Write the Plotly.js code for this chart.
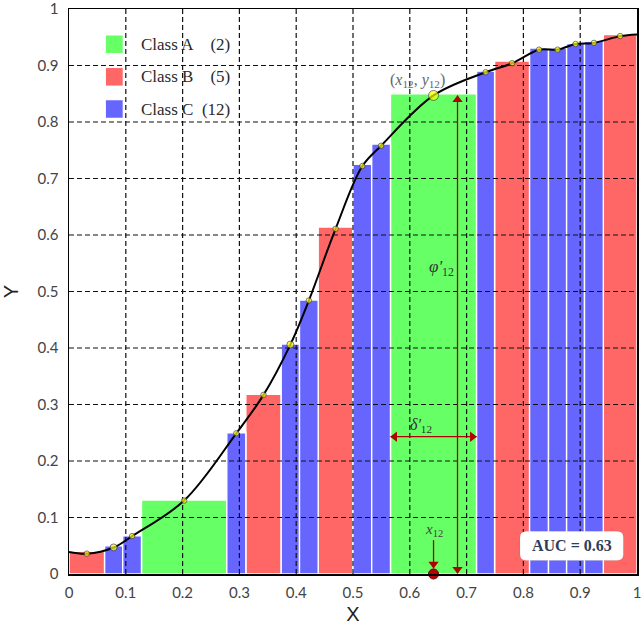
<!DOCTYPE html>
<html>
<head>
<meta charset="utf-8">
<script src="https://cdn.plot.ly/plotly-3.0.1.min.js"></script>
<style>html,body{margin:0;padding:0;background:#fff;}#chart{width:644px;height:625px;}</style>
</head>
<body>
<div id="chart"></div>
<script>
// ---- data ----
const classNames = ['Class A', 'Class B', 'Class C'];
const classColors = ['#66ff66', '#ff6666', '#6666ff'];
// class index of each bar, left to right (0 = A, 1 = B, 2 = C)
const barClass = [1, 2, 2, 0, 2, 1, 2, 2, 1, 2, 2, 0, 2, 1, 2, 2, 2, 2, 1];
const barWidth = [0.0627, 0.0318, 0.0331, 0.1502, 0.0335, 0.0623, 0.0322, 0.0329, 0.0613, 0.0329,
                  0.0331, 0.1516, 0.0317, 0.0616, 0.0333, 0.0319, 0.0315, 0.0331, 0.0593];
const barHeight = [0.040, 0.050, 0.0675, 0.131, 0.250, 0.318, 0.407, 0.485, 0.614, 0.725,
                   0.761, 0.850, 0.890, 0.908, 0.931, 0.931, 0.939, 0.943, 0.955];
const pointY = [0.036, 0.047, 0.067, 0.130, 0.249, 0.317, 0.406, 0.484, 0.611, 0.722,
                0.758, 0.847, 0.888, 0.904, 0.928, 0.928, 0.938, 0.940, 0.952];
const pointSize = [5.5, 7, 5.5, 5.5, 5.5, 5.5, 7, 5.5, 5.5, 5.5, 5.5, 10, 5.5, 5.5, 5.5, 5.5, 5.5, 5.5, 5.5];
const curveStartY = 0.039;
const curveEndY = 0.955;
const highlightIndex = 11; // the 12th bar
const aucValue = 0.63;
const xTicks = [0, 0.1, 0.2, 0.3, 0.4, 0.5, 0.6, 0.7, 0.8, 0.9, 1];
const xTickText = ['0', '0.1', '0.2', '0.3', '0.4', '0.5', '0.6', '0.7', '0.8', '0.9', '1'];
const yTicks = [0, 0.1, 0.2, 0.3, 0.4, 0.5, 0.6, 0.7, 0.8, 0.9, 1];
const yTickText = ['0', '0.1', '0.2', '0.3', '0.4', '0.5', '0.6', '0.7', '0.8', '0.9', '1'];

// ---- derived ----
const barLeft = [];
let acc = 0;
barWidth.forEach(w => { barLeft.push(acc); acc += w; });
const barCenter = barWidth.map((w, i) => barLeft[i] + w / 2);
const hi = highlightIndex;
const hiLeft = barLeft[hi], hiRight = barLeft[hi] + barWidth[hi];
const hiX = barCenter[hi];

const traces = [];
classNames.forEach((name, c) => {
  const idx = barClass.map((k, i) => k === c ? i : -1).filter(i => i >= 0);
  traces.push({
    type: 'bar', name: name, showlegend: false, hoverinfo: 'skip',
    x: idx.map(i => barCenter[i]), y: idx.map(i => barHeight[i]), width: idx.map(i => barWidth[i]),
    marker: {color: classColors[c], line: {color: '#ffffff', width: 1.4}}
  });
});

// dashed grid above bars
const gx = [], gy = [];
xTicks.filter(t => t > 0 && t < 1).forEach(t => { gx.push(t, t, null); gy.push(0, 1, null); });
yTicks.filter(t => t > 0 && t < 1).forEach(t => { gx.push(0, 1, null); gy.push(t, t, null); });
traces.push({type: 'scatter', mode: 'lines', x: gx, y: gy, showlegend: false, hoverinfo: 'skip',
  line: {color: '#111', width: 1.2, dash: '5px,3px'}});

// arrows (line + triangle heads)
const arrowColor = '#b00000';
const headSize = 9;
const inset = 0.0075;
function arrow(x0, y0, x1, y1, both) {
  const dx = x1 - x0, dy = y1 - y0, len = Math.hypot(dx, dy);
  const ux = dx / len, uy = dy / len;
  const headEnd = Math.abs(dx) > Math.abs(dy) ? (dx > 0 ? 'triangle-right' : 'triangle-left') : (dy > 0 ? 'triangle-up' : 'triangle-down');
  const headStart = {'triangle-right': 'triangle-left', 'triangle-left': 'triangle-right', 'triangle-up': 'triangle-down', 'triangle-down': 'triangle-up'}[headEnd];
  traces.push({type: 'scatter', mode: 'lines', x: [x0, x1], y: [y0, y1], showlegend: false, hoverinfo: 'skip',
    line: {color: arrowColor, width: 1.3}});
  const mx = [x1 - ux * inset], my = [y1 - uy * inset], ms = [headEnd];
  if (both) { mx.push(x0 + ux * inset); my.push(y0 + uy * inset); ms.push(headStart); }
  traces.push({type: 'scatter', mode: 'markers', x: mx, y: my, showlegend: false, hoverinfo: 'skip', cliponaxis: false,
    marker: {symbol: ms, size: headSize, color: arrowColor, line: {width: 0}}});
}
arrow(0.684, pointY[hi], 0.684, 0.001, true);   // phi'12
arrow(hiLeft, 0.243, hiRight, 0.243, true);      // delta'12
arrow(hiX, 0.060, hiX, 0.010, false);            // x12

// curve
traces.push({type: 'scatter', mode: 'lines', showlegend: false, hoverinfo: 'skip',
  x: [0].concat(barCenter, [1]), y: [curveStartY].concat(pointY, [curveEndY]),
  line: {color: '#000', width: 2, shape: 'spline', smoothing: 1}});
traces.push({type: 'scatter', mode: 'markers', showlegend: false, hoverinfo: 'skip',
  x: barCenter, y: pointY,
  marker: {color: '#ffff00', size: pointSize, line: {color: '#444', width: 1}}});
// x12 dot
traces.push({type: 'scatter', mode: 'markers', showlegend: false, hoverinfo: 'skip', cliponaxis: false,
  x: [hiX], y: [0], marker: {color: '#c00000', size: 10, line: {color: '#6a0000', width: 1}}});

const shapes = [];
const annotations = [];
// legend
const counts = classNames.map((n, c) => barClass.filter(k => k === c).length);
const legY = [0.9376, 0.880, 0.823];
classNames.forEach((name, c) => {
  shapes.push({type: 'rect', xref: 'x', yref: 'y', x0: 0.065, x1: 0.0945, y0: legY[c] - 0.0155, y1: legY[c] + 0.0155,
    fillcolor: classColors[c], line: {width: 0}, layer: 'above'});
  const pad = String(counts[c]).length > 1 ? '\u00a0\u00a0' : '\u00a0\u00a0\u00a0\u00a0';
  annotations.push({xref: 'x', yref: 'y', x: 0.124, y: legY[c], xanchor: 'left', yanchor: 'middle', showarrow: false,
    text: name + pad + '(' + counts[c] + ')', font: {family: 'Liberation Serif', size: 17, color: '#2a2a2a'}});
});
// AUC box (rounded)
const bx0 = 0.794, bx1 = 0.976, by0 = 0.024, by1 = 0.0757, r = 0.011;
shapes.push({type: 'path', xref: 'x', yref: 'y', layer: 'above',
  path: `M${bx0 + r},${by0} L${bx1 - r},${by0} Q${bx1},${by0} ${bx1},${by0 + r} L${bx1},${by1 - r} Q${bx1},${by1} ${bx1 - r},${by1} L${bx0 + r},${by1} Q${bx0},${by1} ${bx0},${by1 - r} L${bx0},${by0 + r} Q${bx0},${by0} ${bx0 + r},${by0} Z`,
  fillcolor: '#ffffff', line: {color: 'rgba(0,0,0,0.08)', width: 1}});
annotations.push({xref: 'x', yref: 'y', x: (bx0 + bx1) / 2, y: (by0 + by1) / 2, showarrow: false,
  text: '<b>AUC = ' + aucValue + '</b>', font: {family: 'Liberation Serif', size: 16, color: '#2b3d5b'}});

// labels
annotations.push({xref: 'x', yref: 'y', x: 0.614, y: 0.873, showarrow: false,
  text: '(<i>x</i><sub>12</sub>, <i>y</i><sub>12</sub>)', font: {family: 'Liberation Serif', size: 16, color: '#666'}});
annotations.push({xref: 'x', yref: 'y', x: 0.655, y: 0.541, showarrow: false,
  text: "<i>φ'</i><sub>12</sub>", font: {family: 'Liberation Serif', size: 17, color: '#333'}});
annotations.push({xref: 'x', yref: 'y', x: 0.620, y: 0.263, showarrow: false,
  text: "<i>δ'</i><sub>12</sub>", font: {family: 'Liberation Serif', size: 16, color: '#333'}});
annotations.push({xref: 'x', yref: 'y', x: hiX, y: 0.078, showarrow: false,
  text: '<i>x</i><sub>12</sub>', font: {family: 'Liberation Serif', size: 15, color: '#444'}});

const tickFont = {family: 'Lato', size: 15, color: '#444'};
const layout = {
  width: 644, height: 625,
  margin: {l: 69, r: 7, t: 9, b: 51},
  paper_bgcolor: '#fff', plot_bgcolor: '#fff',
  barmode: 'overlay', bargap: 0,
  showlegend: false,
  xaxis: {range: [0, 1], tickvals: xTicks, ticktext: xTickText, ticks: '', showgrid: false, zeroline: false,
    showline: true, mirror: true, linecolor: '#000', linewidth: 1.5, tickfont: tickFont, ticklabelstandoff: 4,
    ticklabeloverflow: 'allow',
    title: {text: 'X', font: {family: 'Liberation Sans', size: 20, color: '#222'}, standoff: 10}, fixedrange: true},
  yaxis: {range: [0, 1], tickvals: yTicks, ticktext: yTickText, ticks: '', showgrid: false, zeroline: false,
    showline: true, mirror: true, linecolor: '#000', linewidth: 1.5, tickfont: tickFont, ticklabelstandoff: 6,
    ticklabeloverflow: 'allow',
    title: {text: 'Y', font: {family: 'Liberation Sans', size: 20, color: '#222'}, standoff: 20}, fixedrange: true},
  shapes: shapes,
  annotations: annotations
};
Plotly.newPlot('chart', traces, layout, {displayModeBar: false, staticPlot: true});
</script>
</body>
</html>
